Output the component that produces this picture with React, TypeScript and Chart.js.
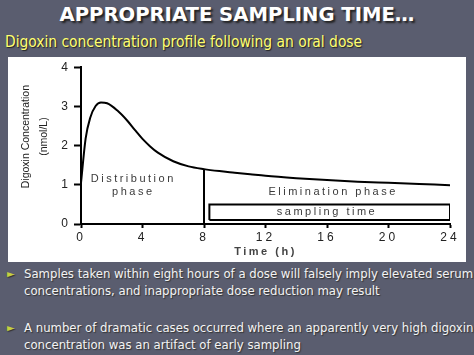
import React, { useEffect, useRef } from 'react';
import { Chart, registerables } from 'chart.js';

Chart.register(...registerables);

// ---- data ----
const curveX = [0, 0.3, 0.6, 0.95, 1.3, 1.7, 2.35, 3.0, 3.5, 4.0, 4.5, 5.0, 6.0, 7.0, 8, 9, 10, 11, 12, 14, 16, 18, 20, 22, 24];
const curveY = [1.05, 2.18, 2.71, 3.01, 3.1, 3.08, 2.9, 2.64, 2.4, 2.17, 1.98, 1.82, 1.6, 1.47, 1.4, 1.35, 1.31, 1.27, 1.23, 1.17, 1.12, 1.08, 1.05, 1.02, 0.99];
const xTicks = [0, 4, 8, 12, 16, 20, 24];
const yTicks = [0, 1, 2, 3, 4];
const dividerX = [8, 8];
const dividerY = [0, 1.4];
const samplingX = [8.35, 24, 24, 8.35, 8.35];
const samplingY = [0.1, 0.1, 0.5, 0.5, 0.1];
const phaseLabels = ['Distribution', 'phase', 'Elimination phase', 'sampling time'];
const labelX = [3.4, 3.4, 16.4, 16.0];
const labelY = [1.16, 0.81, 0.81, 0.31];
const xTitle = 'Time (h)';
const yTitle = ['Digoxin Concentration', '(nmol/L)'];

const slideTitle = 'APPROPRIATE SAMPLING TIME…';
const slideSubtitle = 'Digoxin concentration profile following an oral dose';
const bullets = [
  ['Samples taken within eight hours of a dose will falsely imply elevated serum', 'concentrations, and inappropriate dose reduction may result'],
  ['A number of dramatic cases occurred where an apparently very high digoxin', 'concentration was an artifact of early sampling'],
];

const FONT = '"Liberation Sans", Arial, sans-serif';

const textPlugin = {
  id: 'texts',
  beforeDraw(chart: any) {
    chart.ctx.letterSpacing = '3px';
  },
  afterDraw(chart: any) {
    const { ctx, chartArea } = chart;
    const x = chart.scales.x;
    const y = chart.scales.y;
    ctx.save();
    ctx.letterSpacing = '2.5px';
    ctx.font = `11px ${FONT}`;
    ctx.fillStyle = '#3a3a3a';
    ctx.textAlign = 'center';
    ctx.textBaseline = 'middle';
    phaseLabels.forEach((t, i) => {
      ctx.fillText(t, x.getPixelForValue(labelX[i]), y.getPixelForValue(labelY[i]));
    });
    ctx.font = `bold 11px ${FONT}`;
    ctx.fillStyle = '#444';
    ctx.fillText(xTitle, (chartArea.left + chartArea.right) / 2, chartArea.bottom + 28);
    // y title
    ctx.letterSpacing = '0px';
    ctx.font = `10.5px ${FONT}`;
    ctx.fillStyle = '#222';
    const cy = (chartArea.top + chartArea.bottom) / 2 - 9;
    yTitle.forEach((t, i) => {
      ctx.save();
      ctx.translate(18 + i * 18, cy);
      ctx.rotate(-Math.PI / 2);
      ctx.fillText(t, 0, 0);
      ctx.restore();
    });
    ctx.restore();
  },
};

function ChartPanel() {
  const ref = useRef<HTMLCanvasElement>(null);
  useEffect(() => {
    if (!ref.current) return;
    const chart = new Chart(ref.current, {
      type: 'line',
      data: {
        datasets: [
          {
            data: curveX.map((v, i) => ({ x: v, y: curveY[i] })),
            borderColor: '#000',
            borderWidth: 2,
            pointRadius: 0,
            cubicInterpolationMode: 'monotone',
            fill: false,
          },
          {
            data: dividerX.map((v, i) => ({ x: v, y: dividerY[i] })),
            borderColor: '#000',
            borderWidth: 2,
            pointRadius: 0,
            tension: 0,
          },
          {
            data: samplingX.map((v, i) => ({ x: v, y: samplingY[i] })),
            borderColor: '#000',
            borderWidth: 2,
            pointRadius: 0,
            tension: 0,
          },
        ],
      },
      options: {
        responsive: false,
        animation: false,
        layout: { padding: { top: 9, right: 16, left: 0, bottom: 0 } },
        plugins: { legend: { display: false }, tooltip: { enabled: false } },
        scales: {
          x: {
            type: 'linear',
            min: 0,
            max: 24,
            afterBuildTicks: (s: any) => {
              s.ticks = xTicks.map((v) => ({ value: v }));
            },
            afterFit: (s: any) => {
              s.height = 38;
            },
            grid: { drawOnChartArea: false, drawTicks: true, tickLength: 4, tickWidth: 2, color: '#000' },
            border: { color: '#000', width: 2 },
            ticks: { color: '#222', font: { size: 12, family: FONT }, padding: 2, maxRotation: 0 },
          },
          y: {
            type: 'linear',
            min: 0,
            max: 4,
            afterBuildTicks: (s: any) => {
              s.ticks = yTicks.map((v) => ({ value: v }));
            },
            afterFit: (s: any) => {
              s.width = 73;
            },
            grid: { drawOnChartArea: false, drawTicks: true, tickLength: 7, tickWidth: 2, color: '#000' },
            border: { color: '#000', width: 2 },
            ticks: { color: '#222', font: { size: 12, family: FONT }, padding: 3 },
          },
        },
      },
      plugins: [textPlugin],
    } as any);
    return () => chart.destroy();
  }, []);
  return <canvas ref={ref} width={458} height={205} style={{ display: 'block' }} />;
}

export default function App() {
  const body = '"DejaVu Sans", Verdana, sans-serif';
  return (
    <div
      style={{
        position: 'fixed',
        left: 0,
        top: 0,
        width: 474,
        height: 355,
        background: '#5a5d6f',
        overflow: 'hidden',
        fontFamily: body,
      }}
    >
      <div
        style={{
          position: 'absolute',
          top: 2,
          left: 0,
          width: 474,
          textAlign: 'center',
          color: '#fff',
          fontWeight: 'bold',
          fontSize: 19.6,
          lineHeight: '26px',
          textShadow: '2px 2px 2px #222',
          whiteSpace: 'nowrap',
        }}
      >
        {slideTitle}
      </div>
      <div
        style={{
          position: 'absolute',
          top: 32,
          left: 5,
          color: '#ffff70',
          fontSize: 15.4,
          fontStretch: 'condensed',
          lineHeight: '20px',
          textShadow: '1px 1px 1px #222',
          whiteSpace: 'nowrap',
        }}
      >
        {slideSubtitle}
      </div>
      <div style={{ position: 'absolute', left: 8, top: 57, width: 458, height: 205, background: '#fff' }}>
        <ChartPanel />
      </div>
      {bullets.map((lines, i) => (
        <div
          key={i}
          style={{
            position: 'absolute',
            left: 0,
            top: 265 + i * 54,
            width: 474,
            color: '#f4f4f4',
            fontSize: 13,
            fontStretch: 'condensed',
            lineHeight: '17px',
            textShadow: '1px 1px 1px #333',
            whiteSpace: 'nowrap',
          }}
        >
          <span style={{ position: 'absolute', left: 7, top: 0, color: '#c4d040', fontSize: 10, fontStretch: 'normal' }}>►</span>
          {lines.map((l, j) => (
            <div key={j} style={{ paddingLeft: 24 }}>
              {l}
            </div>
          ))}
        </div>
      ))}
    </div>
  );
}
